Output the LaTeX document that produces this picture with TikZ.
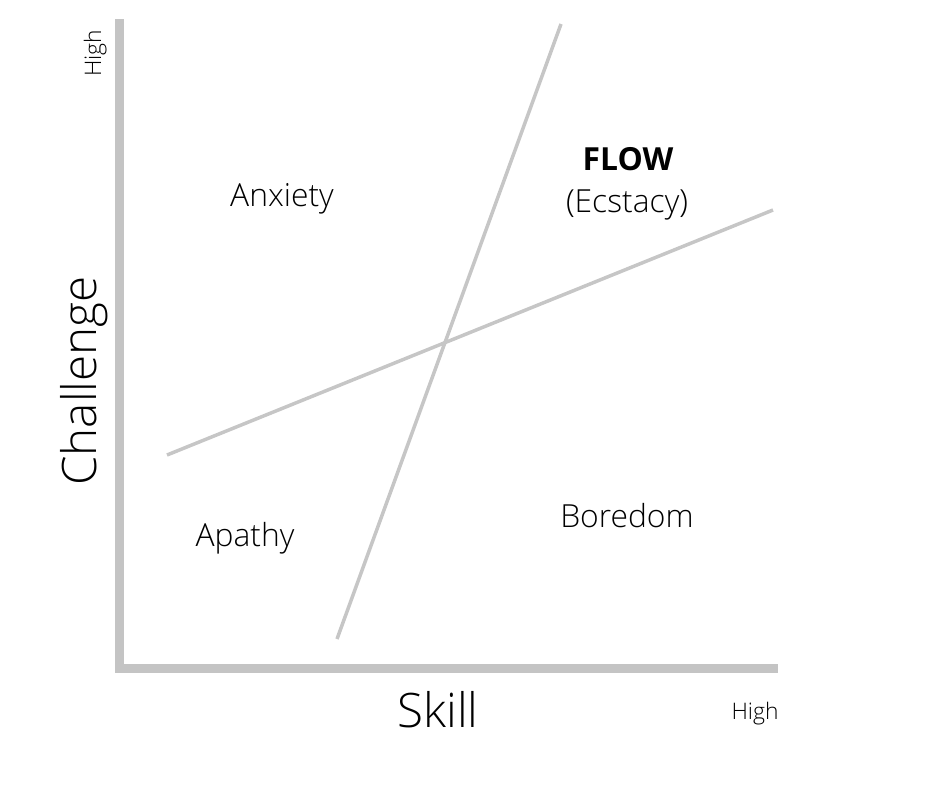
\documentclass[tikz,border=0pt]{standalone}
\usepackage{fontspec}
\IfFontExistsTF{Open Sans Light}{\setmainfont{Open Sans Light}[BoldFont=Open Sans Bold]}{\setmainfont{Open Sans}}
\definecolor{axisgray}{HTML}{C4C4C4}
\definecolor{linegray}{HTML}{C6C6C6}
\begin{document}
\begin{tikzpicture}[x=1pt,y=-1pt,
  axis/.style={draw=axisgray,line width=9pt},
  zone/.style={draw=linegray,line width=3.5pt},
  lbl/.style={font=\fontsize{31.8}{38}\selectfont,inner sep=0pt,anchor=base},
  big/.style={font=\fontsize{47.5}{56}\selectfont,inner sep=0pt,anchor=base},
  small/.style={font=\fontsize{22.8}{27}\selectfont,inner sep=0pt,anchor=base}]
\useasboundingbox (0,0) rectangle (940,788);
\coordinate (top) at (119.5,19);
\coordinate (origin) at (119.5,668);
\coordinate (right) at (778,668);
\draw[axis] (top) -- (origin.center) -- (right);
\coordinate (a1) at (337,639);
\coordinate (a2) at (561,24);
\coordinate (b1) at (167,455);
\coordinate (b2) at (773,210);
\draw[zone] (a1) -- (a2);
\draw[zone] (b1) -- (b2);
\node[small,rotate=90] (highy) at (101,53.5) {High};
\node[big,rotate=90] (chal) at (96.5,381) {Challenge};
\node[big] (skill) at (438,727) {Skill};
\node[small] (highx) at (755,719) {High};
\node[lbl] (anx) at (282,206.5) {Anxiety};
\node[lbl,font=\fontsize{31.8}{38}\selectfont\bfseries] (flow) at (628,170) {FLOW};
\node[lbl] (ecs) at (627,212.5) {(Ecstacy)};
\node[lbl] (apa) at (245,546) {Apathy};
\node[lbl] (bor) at (627,527) {Boredom};
\end{tikzpicture}
\end{document}
